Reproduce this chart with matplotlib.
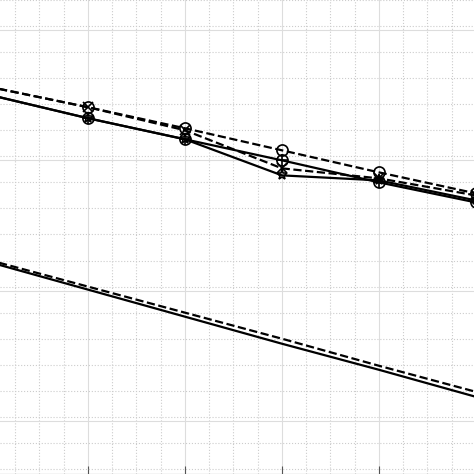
import matplotlib
matplotlib.use("Agg")
import matplotlib.pyplot as plt
import numpy as np
from matplotlib.ticker import MultipleLocator

x = [0, 1, 2, 3, 4, 5]
a_solid = [95, 118, 139, 160, 182, 202]
b_solid = [95, 118, 139, 175, 180, 200]
c_dash = [87, 107, 128, 150, 172, 193]
d_dash = [87, 107, 130, 168, 178, 195]
low_solid = [262, 289, 316, 343, 369, 396]
low_dash = [260, 286, 312, 338, 365, 391]

fig = plt.figure(figsize=(4.74, 4.74), dpi=100)
ax = fig.add_axes([0, 0, 1, 1])
ax.plot(x, a_solid, '-', color='k', lw=1.6, marker='o', mfc='none', ms=8, mew=1.2)
ax.plot(x, a_solid, ' ', color='k', marker='+', ms=8, mew=1.2)
ax.plot(x, b_solid, '-', color='k', lw=1.6, marker='*', ms=8, mfc='none', mew=1.2)
ax.plot(x, c_dash, '--', color='k', lw=1.6, marker='o', mfc='none', ms=8, mew=1.2)
ax.plot(x, d_dash, '--', color='k', lw=1.6, marker='x', ms=7, mew=1.2)
ax.plot(x, low_solid, '-', color='k', lw=1.6)
ax.plot(x, low_dash, '--', color='k', lw=1.6)

ax.set_xlim(0.093, 4.98)
ax.set_ylim(473, 0)
ax.xaxis.set_major_locator(MultipleLocator(1))
ax.xaxis.set_minor_locator(MultipleLocator(0.25))
ax.yaxis.set_major_locator(MultipleLocator(130))
ax.yaxis.set_minor_locator(MultipleLocator(26))
ax.set_yticks([30, 160, 290, 420])
ax.grid(which='major', color='#dddddd', lw=0.8)
ax.grid(which='minor', color='#cccccc', lw=0.8, ls=':')
for s in ['top', 'left', 'right']:
    ax.spines[s].set_visible(False)
ax.spines['bottom'].set_color('#555555')
ax.tick_params(axis='x', which='major', direction='in', length=6, color='#555555', labelbottom=False)
ax.tick_params(axis='x', which='minor', length=0)
ax.tick_params(axis='y', which='both', length=0, labelleft=False)
fig.savefig('out.png', dpi=100)
